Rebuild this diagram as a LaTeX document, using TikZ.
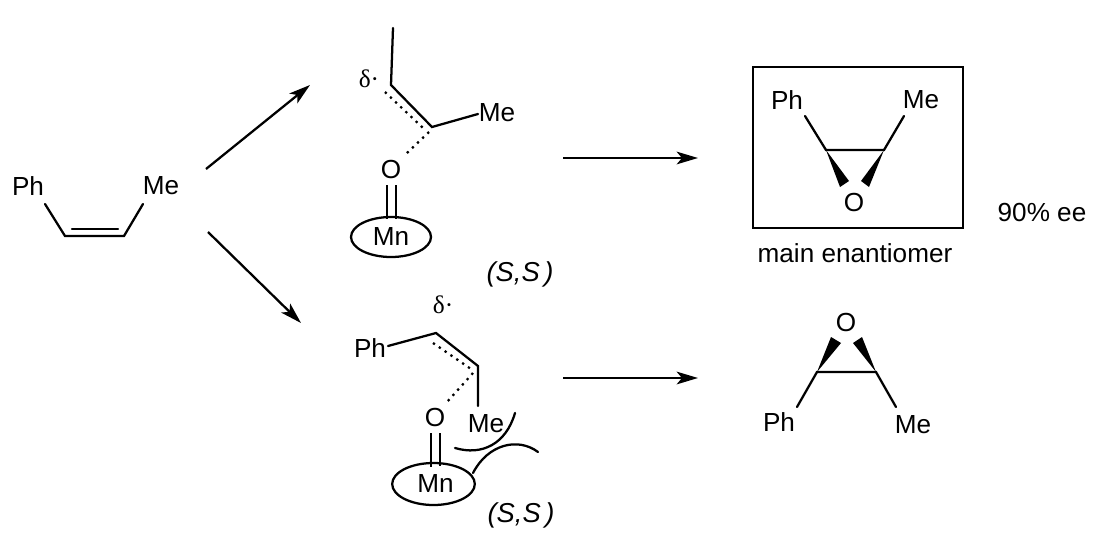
\documentclass[tikz,border=0pt]{standalone}
\usepackage{fontspec}
\setmainfont{Liberation Sans}
\newfontfamily\deltafont{Liberation Serif}
\usetikzlibrary{arrows.meta,shapes.geometric}
\tikzset{
  bond/.style={line width=1.7pt,line cap=round,line join=miter},
  dots/.style={line width=1.7pt,dash pattern=on 1.7pt off 3.6pt},
  rxn/.style={line width=1.7pt,-{Stealth[length=16pt,width=9.5pt,inset=4pt]}},
  atom/.style={inner sep=0pt,font=\fontsize{19.6pt}{21pt}\selectfont},
  note/.style={inner sep=0pt,font=\fontsize{19.6pt}{21pt}\selectfont},
  stereo/.style={inner sep=0pt,font=\fontsize{20.5pt}{22pt}\selectfont\itshape},
  charge/.style={inner sep=0pt,font=\fontsize{19pt}{20pt}\deltafont},
  metal/.style={draw,ellipse,line width=1.7pt,inner sep=0pt,font=\fontsize{19.6pt}{21pt}\selectfont},
  wedge/.style={fill=black,draw=none}
}
\begin{document}
\begin{tikzpicture}[x=0.75pt,y=-0.75pt]
\useasboundingbox (0,0) rectangle (1103,550);
% alkene
\node[atom] (ph1) at (28,186) {Ph};
\node[atom] (me1) at (161,186) {Me};
\coordinate (a1) at (65,236);
\coordinate (a2) at (124,236);
\coordinate (a3) at (72,229);
\coordinate (a4) at (118,229);
\coordinate (ph1e) at (45,204);
\coordinate (me1e) at (143,204);
\draw[bond] (ph1e) -- (a1) -- (a2) -- (me1e);
\draw[bond] (a3) -- (a4);
% reaction arrows
\coordinate (r1s) at (206,169); \coordinate (r1e) at (310,85);
\coordinate (r2s) at (208,232); \coordinate (r2e) at (301,323);
\coordinate (r3s) at (563,158); \coordinate (r3e) at (698,158);
\coordinate (r4s) at (563,378); \coordinate (r4e) at (698,378);
\draw[rxn] (r1s) -- (r1e);
\draw[rxn] (r2s) -- (r2e);
\draw[rxn] (r3s) -- (r3e);
\draw[rxn] (r4s) -- (r4e);
% top TS
\coordinate (t0) at (393,28);
\coordinate (t1) at (391,85);
\coordinate (t2) at (432,127);
\coordinate (t3) at (478,114);
\draw[bond] (t0) -- (t1) -- (t2) -- (t3);
\node[atom] (tme) at (497,113) {Me};
\node[charge] (td) at (369,79) {δ·};
\coordinate (td1) at (385,92); \coordinate (td2) at (423,128);
\coordinate (td3) at (429,132); \coordinate (td4) at (406,154);
\draw[dots] (td1) -- (td2);
\draw[dots] (td3) -- (td4);
\node[atom] (to) at (391,170) {O};
\node[metal,minimum width=60pt,minimum height=30pt] (tmn) at (391,237) {Mn};
\coordinate (to1) at (387,185); \coordinate (to2) at (387,219);
\coordinate (to3) at (396,185); \coordinate (to4) at (396,219);
\draw[bond,line cap=butt] (to1) -- (to2);
\draw[bond,line cap=butt] (to3) -- (to4);
\node[stereo] (tss) at (520,274) {(S,S\,)};
% bottom TS
\node[atom] (bph) at (370,348) {Ph};
\coordinate (b0) at (388,346);
\coordinate (b1) at (436,333);
\coordinate (b2) at (478,366);
\coordinate (b3) at (478,406);
\draw[bond] (b0) -- (b1) -- (b2) -- (b3);
\node[atom] (bme) at (486,424) {Me};
\node[charge] (bd) at (443,305) {δ·};
\coordinate (bd1) at (433,343); \coordinate (bd2) at (471,369);
\coordinate (bd3) at (473,373); \coordinate (bd4) at (447,402);
\draw[dots] (bd1) -- (bd2);
\draw[dots] (bd3) -- (bd4);
\node[atom] (bo) at (435,417) {O};
\node[metal,minimum width=62pt,minimum height=31.5pt] (bmn) at (433.5,484) {\hspace*{3pt}Mn};
\coordinate (bo1) at (431,433); \coordinate (bo2) at (431,467);
\coordinate (bo3) at (440,433); \coordinate (bo4) at (440,466);
\draw[bond,line cap=butt] (bo1) -- (bo2);
\draw[bond,line cap=butt] (bo3) -- (bo4);
\coordinate (c1) at (455,448); \coordinate (c2) at (515,413);
\coordinate (c3) at (473,473); \coordinate (c4) at (538,452);
\draw[bond] (c1) .. controls (482,456) and (506,444) .. (c2);
\draw[bond] (c3) .. controls (488,444) and (518,437) .. (c4);
\node[stereo] (bss) at (521,515) {(S,S\,)};
% boxed epoxide
\node[draw,line width=1.7pt,inner sep=0pt,minimum width=157.5pt,minimum height=120.75pt] (box) at (858,147.5) {};
\node[atom] (eph) at (787,100) {Ph};
\node[atom] (eme) at (921,100) {Me};
\node[atom] (eo) at (854,202) {O};
\coordinate (e1) at (805,116); \coordinate (e2) at (826,150);
\coordinate (e3) at (884,150); \coordinate (e4) at (904,116);
\draw[bond] (e1) -- (e2) -- (e3) -- (e4);
\coordinate (w1a) at (840,187); \coordinate (w1b) at (849,181);
\coordinate (w2a) at (861,181); \coordinate (w2b) at (869,187);
\fill[wedge] (e2) -- (w1a) -- (w1b) -- cycle;
\fill[wedge] (e3) -- (w2a) -- (w2b) -- cycle;
\node[note] (main) at (855,253) {main enantiomer};
\node[note] (ee) at (1042,212) {90\% ee};
% lower epoxide
\node[atom] (fo) at (846,322) {O};
\node[atom] (fph) at (779,422) {Ph};
\node[atom] (fme) at (913,425) {Me};
\coordinate (f1) at (797,407); \coordinate (f2) at (817,372);
\coordinate (f3) at (876,372); \coordinate (f4) at (896,407);
\draw[bond] (f1) -- (f2) -- (f3) -- (f4);
\coordinate (x1a) at (831,337); \coordinate (x1b) at (841,343);
\coordinate (x2a) at (853,343); \coordinate (x2b) at (862,337);
\fill[wedge] (f2) -- (x1a) -- (x1b) -- cycle;
\fill[wedge] (f3) -- (x2a) -- (x2b) -- cycle;
\end{tikzpicture}
\end{document}
